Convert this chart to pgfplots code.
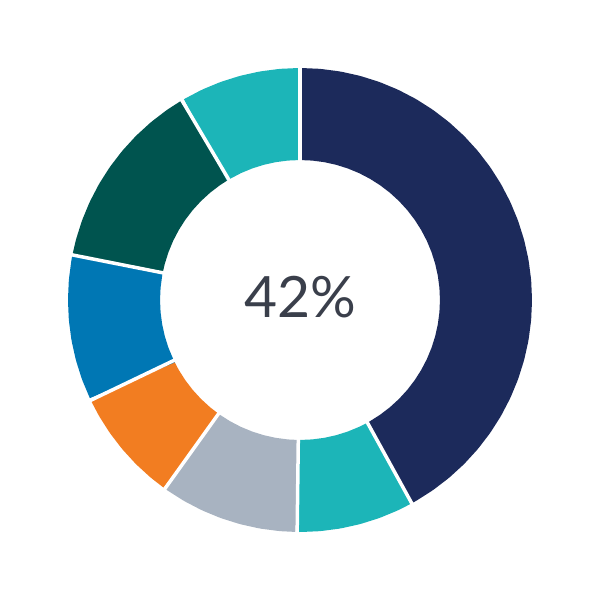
\documentclass[border=0pt]{standalone}
\usepackage{fontspec}
\setmainfont{Lato}
\usepackage{pgfplots}
\pgfplotsset{compat=1.18}
\usepgfplotslibrary{polar}

\definecolor{cnavy}{HTML}{1C2A5B}
\definecolor{cteal}{HTML}{1CB5B8}
\definecolor{cgrey}{HTML}{A8B3C1}
\definecolor{corange}{HTML}{F27D21}
\definecolor{cblue}{HTML}{0077B4}
\definecolor{cgreen}{HTML}{00544F}
\definecolor{ctext}{HTML}{3A3F4B}

\begin{document}
\begin{tikzpicture}
% shares (clockwise from top): 42, 8.2, 9.7, 8.0, 10.2, 13.4, 8.5 percent
% ring drawn as thick arcs at mid radius 186, width 92 (radii 140..232)
\begin{polaraxis}[
    width=600pt, height=600pt, scale only axis,
    hide axis, clip=false,
    xmin=0, xmax=360, ymin=0, ymax=300,
    ring/.style={line width=92pt, line cap=butt, line join=round, mark=none},
    sep/.style={white, line width=3.5pt, mark=none},
]
% invisible frame: keeps the white margin round the ring
\addplot[draw=none, mark=none] coordinates {(0,300) (90,300) (180,300) (270,300)};
% 42 %
\addplot[ring, cnavy] coordinates {
    (90,186) (85,186) (80,186) (75,186) (70,186) (65,186) (60,186) (55,186)
    (50,186) (45,186) (40,186) (35,186) (30,186) (25,186) (20,186) (15,186)
    (10,186) (5,186) (0,186) (-5,186) (-10,186) (-15,186) (-20,186) (-25,186)
    (-30,186) (-35,186) (-40,186) (-45,186) (-50,186) (-55,186) (-60,186) (-61.2,186)
};
% 8.2 %
\addplot[ring, cteal] coordinates {
    (-61.2,186) (-65,186) (-70,186) (-75,186) (-80,186) (-85,186) (-90,186) (-90.7,186)
};
% 9.7 %
\addplot[ring, cgrey] coordinates {
    (-90.7,186) (-95,186) (-100,186) (-105,186) (-110,186) (-115,186) (-120,186) (-125,186) (-125.6,186)
};
% 8.0 %
\addplot[ring, corange] coordinates {
    (-125.6,186) (-130,186) (-135,186) (-140,186) (-145,186) (-150,186) (-154.4,186)
};
% 10.2 %
\addplot[ring, cblue] coordinates {
    (-154.4,186) (-160,186) (-165,186) (-170,186) (-175,186) (-180,186) (-185,186) (-190,186) (-191.2,186)
};
% 13.4 %
\addplot[ring, cgreen] coordinates {
    (-191.2,186) (-195,186) (-200,186) (-205,186) (-210,186) (-215,186) (-220,186) (-225,186)
    (-230,186) (-235,186) (-239.4,186)
};
% 8.5 %
\addplot[ring, cteal] coordinates {
    (-239.4,186) (-245,186) (-250,186) (-255,186) (-260,186) (-265,186) (-270,186)
};
% white separators
\addplot[sep] coordinates {(90,130) (90,240)};
\addplot[sep] coordinates {(-61.2,130) (-61.2,240)};
\addplot[sep] coordinates {(-90.7,130) (-90.7,240)};
\addplot[sep] coordinates {(-125.6,130) (-125.6,240)};
\addplot[sep] coordinates {(-154.4,130) (-154.4,240)};
\addplot[sep] coordinates {(-191.2,130) (-191.2,240)};
\addplot[sep] coordinates {(-239.4,130) (-239.4,240)};

\node[text=ctext, font=\fontsize{57}{60}\selectfont, anchor=center]
    at (axis cs:90,3) {42\%};
\end{polaraxis}
\end{tikzpicture}
\end{document}
